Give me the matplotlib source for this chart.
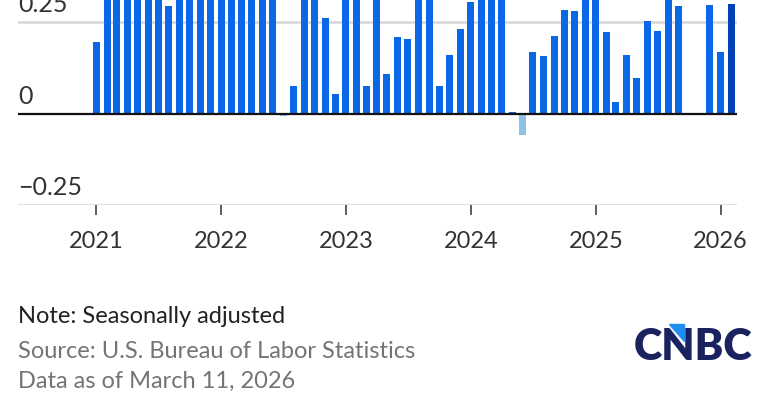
import numpy as np
import pandas as pd
import matplotlib
matplotlib.use("Agg")
import matplotlib.pyplot as plt
import matplotlib.dates as mdates
from matplotlib.patches import Polygon

plt.rcParams['font.family'] = ['Lato', 'DejaVu Sans']

# monthly % change, Jan 2021 .. Feb 2026 (Oct/Nov 2025 not published)
months = pd.date_range("2021-01-01", "2026-02-01", freq="MS")
values = [
    0.195, 0.35, 0.56, 0.77, 0.64, 0.84, 0.45, 0.294, 0.39, 0.81, 0.68, 0.57,
    0.64, 0.84, 1.2, 0.35, 1.0, 1.3, -0.006, 0.077, 0.37, 0.44, 0.262, 0.054,
    0.5, 0.4, 0.077, 0.4, 0.11, 0.21, 0.205, 0.44, 0.38, 0.077, 0.16, 0.232,
    0.305, 0.44, 0.38, 0.33, 0.005, -0.058, 0.168, 0.157, 0.212, 0.285, 0.282, 0.39,
    0.47, 0.225, 0.032, 0.16, 0.097, 0.253, 0.227, 0.38, 0.296, np.nan, np.nan, 0.298,
    0.17, 0.30,
]
yticks = [-0.25, 0, 0.25]
ytick_labels = ["\u22120.25", "0", "0.25"]
xtick_years = [2021, 2022, 2023, 2024, 2025, 2026]

BLUE = "#0a68e6"
LIGHT = "#8cc2ea"
DARK = "#0042b5"

vals = np.array(values, dtype=float)
colors = [LIGHT if v < 0 else BLUE for v in np.nan_to_num(vals)]
colors[-1] = DARK

fig = plt.figure(figsize=(7.68, 4.02), dpi=100)
ax = fig.add_axes([18 / 768, 1 - 206 / 402, (737 - 18) / 768, 206 / 402])

x = mdates.date2num(months)
ok = ~np.isnan(vals)
ax.bar(x[ok], vals[ok], width=20.5, color=np.array(colors)[ok], align="center", zorder=3)

ax.set_ylim(-0.25, 0.314)
x0 = mdates.date2num(pd.Timestamp("2021-01-01"))
x1 = mdates.date2num(pd.Timestamp("2026-01-01"))
ppd = (720.5 - 96.5) / (x1 - x0)
ax.set_xlim(x0 - (96.5 - 18) / ppd, x1 + (737 - 720.5) / ppd)

for sp in ax.spines.values():
    sp.set_visible(False)

# gridlines and labels sitting above them
for t, lab in zip(yticks, ytick_labels):
    if t == 0:
        ax.axhline(0, color="#111111", lw=1.6, zorder=4)
    else:
        ax.axhline(t, color="#d6d6d6", lw=1.8, zorder=1)
    ax.annotate(lab, xy=(0, t), xycoords=("axes fraction", "data"),
                xytext=(0, 5), textcoords="offset points",
                ha="left", va="bottom", fontsize=18, color="#333333")
ax.set_yticks([])

ax.set_xticks([mdates.date2num(pd.Timestamp(f"{y}-01-01")) for y in xtick_years])
ax.set_xticklabels([str(y) for y in xtick_years])
ax.tick_params(axis="x", length=7, width=1.1, color="#333333",
               labelsize=17, labelcolor="#333333", pad=11)

fig.text(18 / 768, 1 - 317 / 402, "Note: Seasonally adjusted", fontsize=17,
         color="#222222", va="center", ha="left")
fig.text(18 / 768, 1 - 352 / 402, "Source: U.S. Bureau of Labor Statistics", fontsize=17,
         color="#747474", va="center", ha="left")
fig.text(18 / 768, 1 - 381 / 402, "Data as of March 11, 2026", fontsize=17,
         color="#747474", va="center", ha="left")

# logo
fig.text(693 / 768, 1 - 347 / 402, "CNBC", fontsize=31, fontweight="heavy",
         color="#1a2360", ha="center", va="center")
tri = Polygon([[669 / 768, 1 - 325 / 402], [684 / 768, 1 - 325 / 402],
               [684 / 768, 1 - 342 / 402]], closed=True,
              transform=fig.transFigure, color="#1e8ff0", zorder=5)
fig.patches.append(tri)

fig.savefig("out.png", dpi=100)
